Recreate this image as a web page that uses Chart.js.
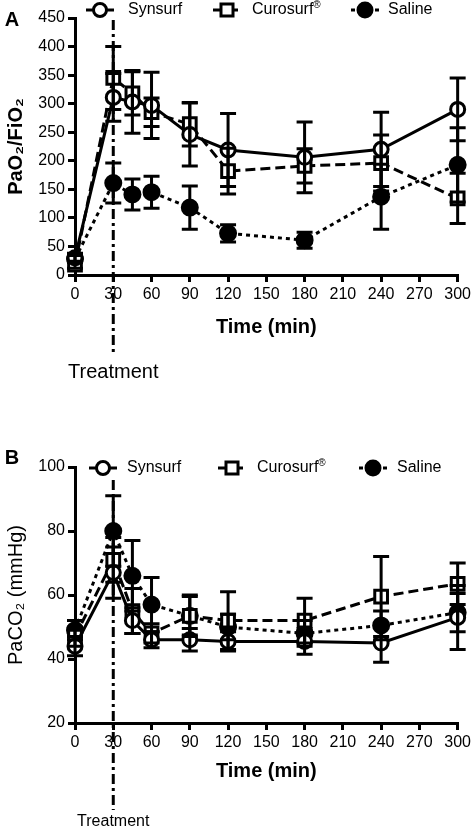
<!DOCTYPE html>
<html>
<head>
<meta charset="utf-8">
<script src="https://cdn.jsdelivr.net/npm/chart.js@4.4.0/dist/chart.umd.min.js"></script>
<style>
  html, body { margin: 0; padding: 0; background: #fff; }
  .panel { position: absolute; left: 0; width: 474px; height: 415px; }
  #panelA { top: 0; }
  #panelB { top: 415px; }
</style>
</head>
<body>
<div class="panel" id="panelA"><canvas id="chartA" width="474" height="415"></canvas></div>
<div class="panel" id="panelB"><canvas id="chartB" width="474" height="415"></canvas></div>
<script>
// sampling times and axis ticks
const times = [0, 30, 45, 60, 90, 120, 180, 240, 300];
const timeTicks = [0, 30, 60, 90, 120, 150, 180, 210, 240, 270, 300];
const treatmentTime = 30;
const seriesNames = ["Synsurf", "Curosurf", "Saline"];

// panel A: PaO2/FiO2 (mean, error)
const synsurfA = [30, 311, 303, 297, 246, 219, 206, 220, 290];
const synsurfAErr = [8, 42, 55, 58, 55, 64, 62, 65, 55];
const curosurfA = [18, 345, 318, 285, 264, 182, 191, 196, 134];
const curosurfAErr = [6, 55, 38, 25, 38, 40, 30, 49, 44];
const salineA = [28, 161, 141, 145, 118, 73, 61, 137, 193];
const salineAErr = [6, 35, 27, 28, 38, 15, 14, 57, 65];
const ticksA = [0, 50, 100, 150, 200, 250, 300, 350, 400, 450];

// panel B: PaCO2 in mmHg (mean, error)
const synsurfB = [44, 67, 52, 46, 46, 45.5, 45.5, 45, 53];
const synsurfBErr = [3, 8, 4, 2.5, 3.5, 3, 4, 6, 10];
const curosurfB = [47, 71, 55, 48, 53.5, 52, 52, 59.5, 63.5];
const curosurfBErr = [3, 7, 7, 3, 6.5, 9, 7, 12.5, 6.5];
const salineB = [49, 80, 66, 57, 53.5, 50, 48, 50.5, 54.5];
const salineBErr = [3, 11, 11, 8.5, 6, 4, 4, 4.5, 6];
const ticksB = [20, 40, 60, 80, 100];

const FONT = "'Liberation Sans', Arial, Helvetica, sans-serif";
const LW = 3;

function makeDataset(name, values, errors, style) {
  return Object.assign({
    label: name,
    data: times.map((t, i) => ({ x: t, y: values[i] })),
    errors: errors,
    borderColor: "#000",
    borderWidth: LW,
    pointBorderColor: "#000",
    pointBorderWidth: LW,
    pointHoverRadius: 0,
    tension: 0,
    clip: false
  }, style);
}

const styles = [
  { borderDash: [], pointStyle: "circle", pointRadius: 7, pointBackgroundColor: "#fff" },
  { borderDash: [10, 5], pointStyle: "rect", pointRadius: 9, pointBackgroundColor: "#fff" },
  { borderDash: [4, 4], pointStyle: "circle", pointRadius: 7.5, pointBackgroundColor: "#000" }
];

const errorBars = {
  id: "errorBars",
  afterDatasetsDraw(chart) {
    const ctx = chart.ctx;
    const yScale = chart.scales.y;
    ctx.save();
    ctx.strokeStyle = "#000";
    ctx.lineWidth = LW;
    ctx.setLineDash([]);
    chart.data.datasets.forEach((ds, i) => {
      const meta = chart.getDatasetMeta(i);
      meta.data.forEach((pt, j) => {
        const v = ds.data[j].y, e = ds.errors[j];
        const yTop = yScale.getPixelForValue(v + e);
        const yBot = yScale.getPixelForValue(v - e);
        ctx.beginPath();
        ctx.moveTo(pt.x, yTop); ctx.lineTo(pt.x, yBot);
        ctx.moveTo(pt.x - 8, yTop); ctx.lineTo(pt.x + 8, yTop);
        ctx.moveTo(pt.x - 8, yBot); ctx.lineTo(pt.x + 8, yBot);
        ctx.stroke();
      });
    });
    ctx.restore();
  }
};

function makeDecor(cfg) {
  return {
    id: "decor",
    beforeDatasetsDraw(chart) {
      const ctx = chart.ctx;
      const x = chart.scales.x.getPixelForValue(treatmentTime);
      ctx.save();
      ctx.strokeStyle = "#000";
      ctx.lineWidth = 3;
      ctx.setLineDash([10, 4, 3, 4]);
      ctx.beginPath();
      ctx.moveTo(x, cfg.treatTop);
      ctx.lineTo(x, cfg.treatBottom);
      ctx.stroke();
      ctx.restore();
    },
    afterDraw(chart) {
      const ctx = chart.ctx;
      ctx.save();
      ctx.fillStyle = "#000";
      ctx.textBaseline = "middle";
      // panel letter
      ctx.font = "bold 20px " + FONT;
      ctx.textAlign = "center";
      ctx.fillText(cfg.letter, 12, cfg.letterY);
      // treatment label
      ctx.font = cfg.treatFont + "px " + FONT;
      ctx.fillText("Treatment", chart.scales.x.getPixelForValue(treatmentTime), cfg.treatLabelY);
      // legend
      chart.data.datasets.forEach((ds, i) => {
        const mx = cfg.legendX[i], y = cfg.legendY;
        ctx.strokeStyle = "#000";
        ctx.lineWidth = LW;
        ctx.setLineDash(ds.borderDash);
        ctx.beginPath();
        ctx.moveTo(mx - 14, y); ctx.lineTo(mx + 14, y);
        ctx.stroke();
        ctx.setLineDash([]);
        ctx.fillStyle = ds.pointBackgroundColor;
        Chart.helpers.drawPoint(ctx, {
          pointStyle: ds.pointStyle, radius: ds.pointRadius - 0.5, borderWidth: LW, rotation: 0
        }, mx, y);
        ctx.fillStyle = "#000";
        ctx.textAlign = "left";
        ctx.font = "16px " + FONT;
        const tx = cfg.textX[i];
        ctx.fillText(ds.label, tx, y);
        if (i === 1) {
          const w = ctx.measureText(ds.label).width;
          ctx.font = "10px " + FONT;
          ctx.fillText("\u00AE", tx + w, y - 5);
        }
      });
      ctx.restore();
    }
  };
}

function makeChart(canvasId, series, yTicks, yTitle, yBold, cfg) {
  const datasets = series.map((s, i) => makeDataset(seriesNames[i], s[0], s[1], styles[i]));
  const axisGrid = {
    display: true, drawOnChartArea: false, drawTicks: true,
    tickLength: 7, color: "#000", lineWidth: LW
  };
  return new Chart(document.getElementById(canvasId), {
    type: "line",
    data: { datasets },
    options: {
      responsive: false,
      animation: false,
      events: [],
      layout: { padding: cfg.padding },
      plugins: { legend: { display: false }, tooltip: { enabled: false } },
      scales: {
        x: {
          type: "linear",
          min: 0, max: 300,
          afterBuildTicks: axis => { axis.ticks = timeTicks.map(v => ({ value: v })); },
          afterFit: axis => { axis.height = cfg.xAxisHeight; },
          border: { display: true, color: "#000", width: LW },
          grid: axisGrid,
          ticks: { color: "#000", font: { size: 16, family: FONT }, padding: 3, maxRotation: 0, autoSkip: false },
          title: { display: true, text: "Time (min)", color: "#000",
                   font: { size: 20, weight: "bold", family: FONT }, padding: 0 }
        },
        y: {
          min: yTicks[0], max: yTicks[yTicks.length - 1],
          afterBuildTicks: axis => { axis.ticks = yTicks.map(v => ({ value: v })); },
          afterFit: axis => { axis.width = 75; },
          border: { display: true, color: "#000", width: LW },
          grid: axisGrid,
          ticks: { color: "#000", font: { size: 16, family: FONT }, padding: 3 },
          title: { display: true, text: yTitle, color: "#000",
                   font: { size: 20, weight: yBold ? "bold" : "normal", family: FONT },
                   padding: { top: 4, bottom: 0 } }
        }
      }
    },
    plugins: [errorBars, makeDecor(cfg)]
  });
}

makeChart("chartA",
  [[synsurfA, synsurfAErr], [curosurfA, curosurfAErr], [salineA, salineAErr]],
  ticksA, "PaO\u2082/FiO\u2082", true,
  {
    padding: { left: 0, right: 14, top: 18, bottom: 76 },
    xAxisHeight: 64,
    letter: "A", letterY: 20,
    legendX: [100, 227, 365], textX: [128, 252, 388], legendY: 10,
    treatTop: 20, treatBottom: 356, treatLabelY: 372, treatFont: 20
  });

makeChart("chartB",
  [[synsurfB, synsurfBErr], [curosurfB, curosurfBErr], [salineB, salineBErr]],
  ticksB, "PaCO\u2082 (mmHg)", false,
  {
    padding: { left: 0, right: 14, top: 52, bottom: 47 },
    xAxisHeight: 60,
    letter: "B", letterY: 43,
    legendX: [103, 232, 373], textX: [127, 257, 397], legendY: 53,
    treatTop: 65, treatBottom: 395, treatLabelY: 407, treatFont: 16
  });
</script>
</body>
</html>
